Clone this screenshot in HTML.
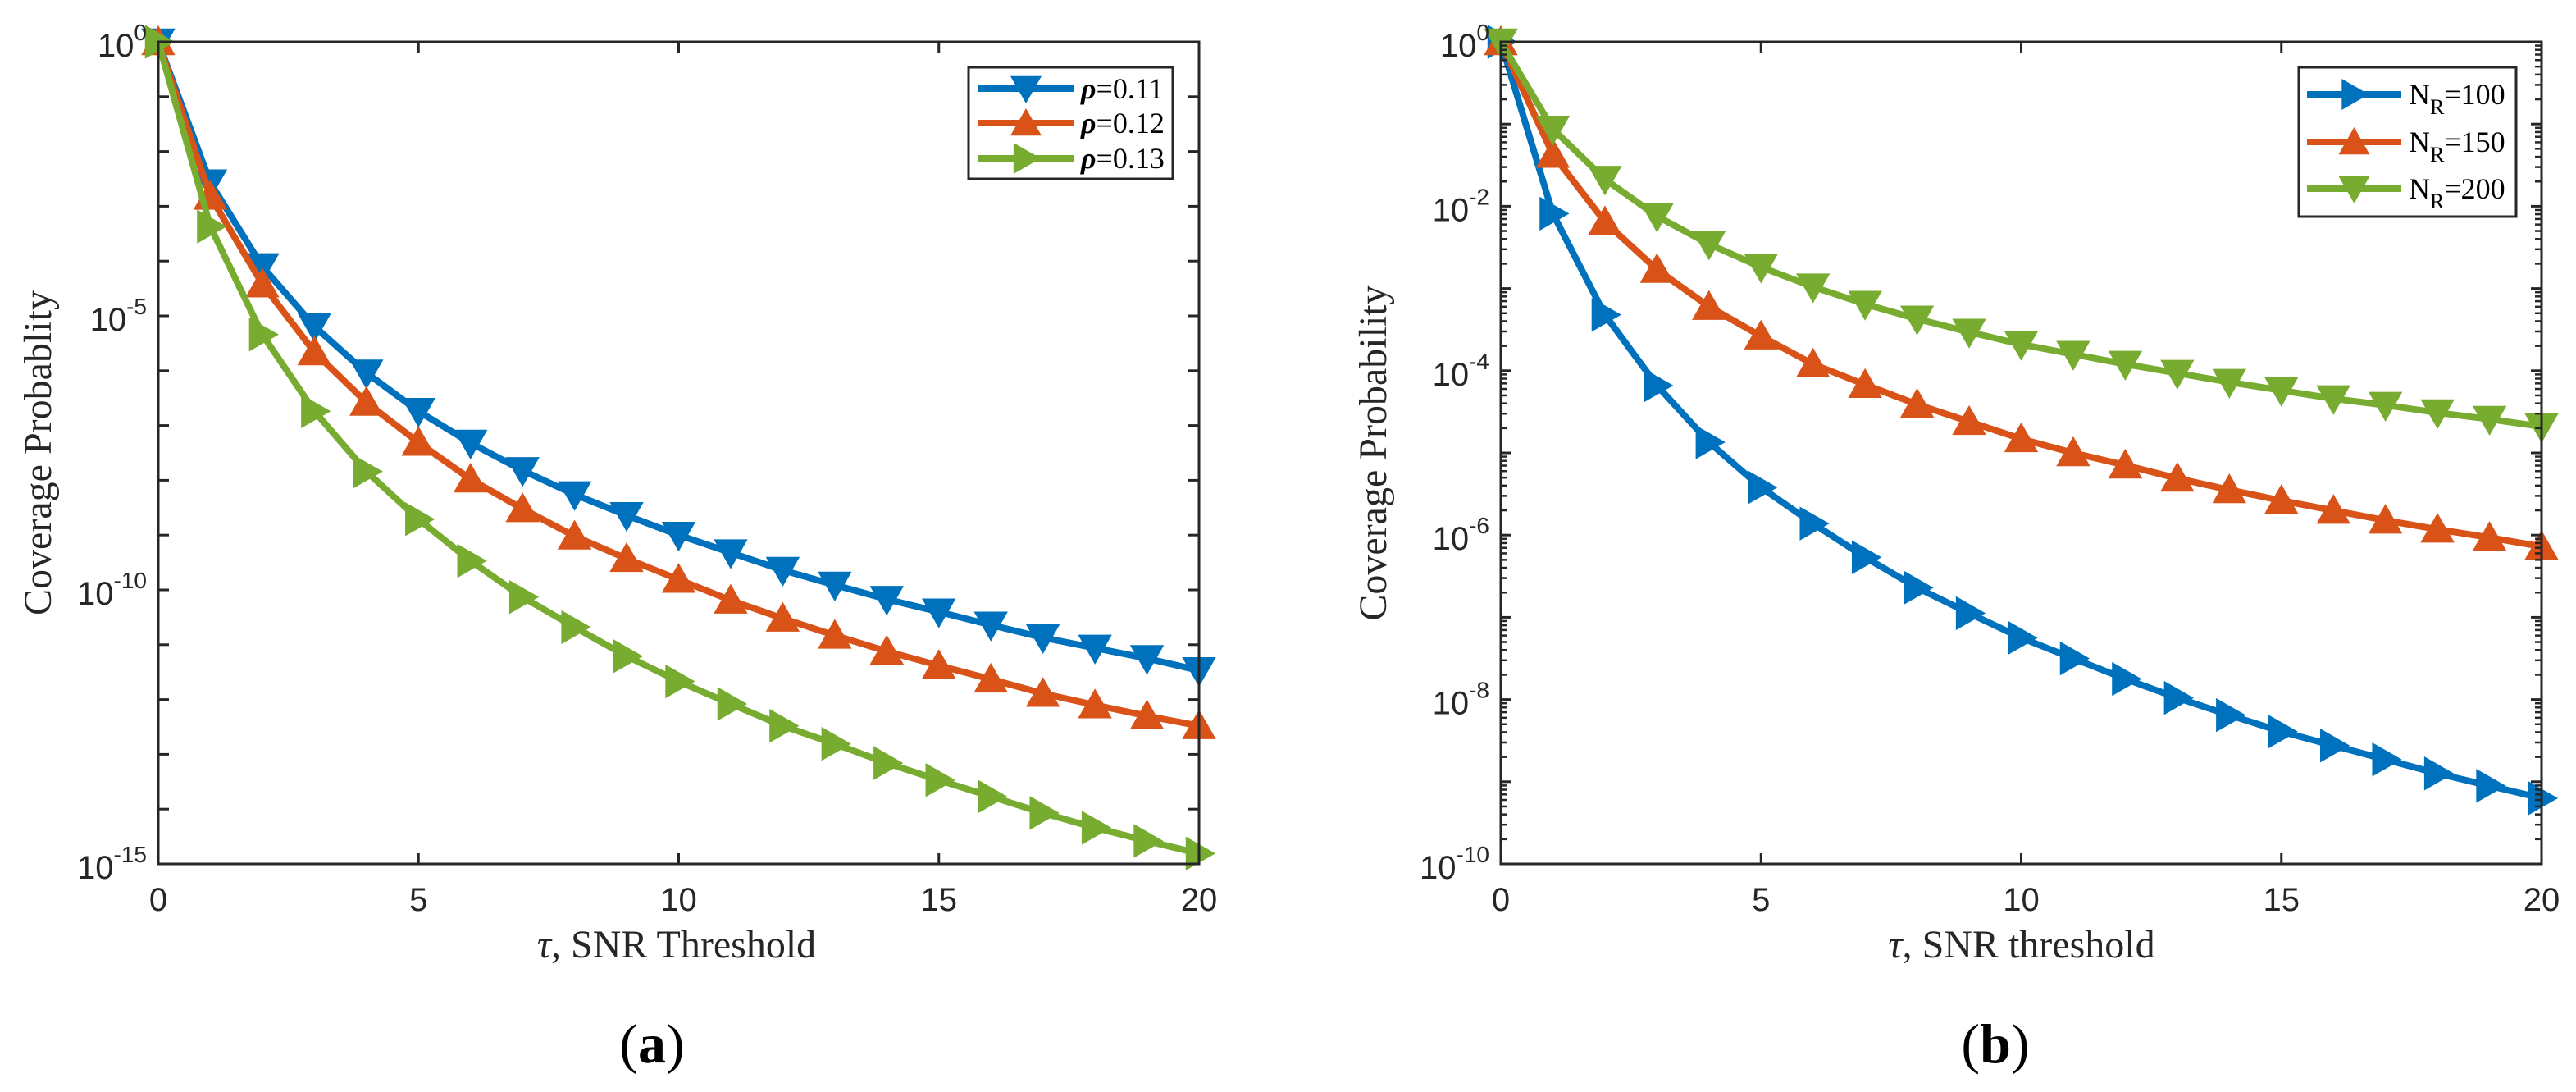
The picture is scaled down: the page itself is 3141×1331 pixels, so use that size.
<!DOCTYPE html>
<html><head><meta charset="utf-8"><style>
html,body{margin:0;padding:0;background:#fff}
svg{display:block}
</style></head><body>
<svg id="fig" width="3141" height="1331" viewBox="0 0 3141 1331" xmlns="http://www.w3.org/2000/svg"></svg>
<script>
// ---- data (log10 of coverage probability) ----
const tauValues = [0,1,2,3,4,5,6,7,8,9,10,11,12,13,14,15,16,17,18,19,20];
const xTickLabels = ["0","5","10","15","20"];
// panel a
const rho011Log = [0,-2.57,-4.10,-5.19,-6.04,-6.74,-7.32,-7.82,-8.26,-8.64,-9.00,-9.32,-9.64,-9.91,-10.17,-10.40,-10.64,-10.87,-11.06,-11.25,-11.47];
const rho012Log = [0,-2.82,-4.42,-5.66,-6.58,-7.31,-7.98,-8.52,-9.02,-9.43,-9.81,-10.19,-10.52,-10.83,-11.12,-11.38,-11.63,-11.89,-12.10,-12.30,-12.48];
const rho013Log = [0,-3.37,-5.34,-6.74,-7.84,-8.71,-9.47,-10.13,-10.68,-11.21,-11.67,-12.08,-12.48,-12.81,-13.16,-13.47,-13.77,-14.07,-14.34,-14.58,-14.81];
const yTickExpA = ["0","-5","-10","-15"];
// panel b
const nr100Log = [0,-2.09,-3.32,-4.18,-4.87,-5.42,-5.86,-6.27,-6.64,-6.95,-7.25,-7.50,-7.75,-7.98,-8.19,-8.39,-8.56,-8.73,-8.90,-9.05,-9.20];
const nr150Log = [0,-1.37,-2.19,-2.77,-3.22,-3.58,-3.92,-4.17,-4.41,-4.62,-4.83,-5.00,-5.15,-5.31,-5.45,-5.58,-5.70,-5.82,-5.93,-6.03,-6.14];
const nr200Log = [0,-1.06,-1.67,-2.12,-2.46,-2.74,-2.98,-3.19,-3.37,-3.53,-3.68,-3.80,-3.92,-4.03,-4.14,-4.24,-4.34,-4.42,-4.51,-4.59,-4.68];
const yTickExpB = ["0","-2","-4","-6","-8","-10"];

const NS="http://www.w3.org/2000/svg";
const svg=document.getElementById('fig');
function mk(tag,attrs,parent){const e=document.createElementNS(NS,tag);for(const k in attrs)e.setAttribute(k,attrs[k]);(parent||svg).appendChild(e);return e;}
const AX="#262626", SANS='"Liberation Sans", Arial, sans-serif', SERIF='"Liberation Serif", "Times New Roman", serif';
const COLORS=["#0072BD","#D95319","#77AC30"];

function tri(cx,cy,dir,s){
  const r=s;
  if(dir==='down') return `${cx-r},${cy-r*0.8} ${cx+r},${cy-r*0.8} ${cx},${cy+r*0.95}`;
  if(dir==='up') return `${cx-r},${cy+r*0.8} ${cx+r},${cy+r*0.8} ${cx},${cy-r*0.95}`;
  return `${cx-r*0.8},${cy-r} ${cx-r*0.8},${cy+r} ${cx+r*0.95},${cy}`;
}

function panel(o){
  const g=mk('g',{});
  
  
  const {L,R,T,B,ymin}=o;
  const xs=v=>L+(v-0)/(20-0)*(R-L);
  const ys=v=>T+(0-v)/(0-ymin)*(B-T);
  o.series.forEach((s,i)=>{
    const sg=mk('g',{},g);
    
    
    const pts=tauValues.map((t,j)=>xs(t)+','+ys(s.data[j])).join(' ');
    const pl=mk('polyline',{points:pts,fill:'none',stroke:s.color,'stroke-width':8,'stroke-linejoin':'round'},sg);
    
    
    tauValues.forEach((t,j)=>{
      const m=mk('polygon',{points:tri(xs(t),ys(s.data[j]),s.marker,19),fill:s.color,stroke:s.color,'stroke-width':2},sg);
      
      
    });
  });
  const box=mk('rect',{x:L,y:T,width:R-L,height:B-T,fill:'none',stroke:AX,'stroke-width':3},g);
  
  
  const tk=13;
  xTickLabels.forEach(lab=>{
    const x=xs(parseFloat(lab));
    mk('line',{x1:x,y1:B,x2:x,y2:B-tk,stroke:AX,'stroke-width':3},g);
    mk('line',{x1:x,y1:T,x2:x,y2:T+tk,stroke:AX,'stroke-width':3},g);
    const t=mk('text',{x:x,y:B+57,'font-family':SANS,'font-size':40,fill:AX,'text-anchor':'middle'},g);
    t.textContent=lab;
    
    
  });
  for(let d=0;d>=ymin;d--){
    const y=ys(d);
    mk('line',{x1:L,y1:y,x2:L+tk,y2:y,stroke:AX,'stroke-width':3},g);
    mk('line',{x1:R,y1:y,x2:R-tk,y2:y,stroke:AX,'stroke-width':3},g);
    if(o.minor && d>ymin){
      for(let k=2;k<=9;k++){
        const yy=ys(d-1+Math.log10(k));
        mk('line',{x1:L,y1:yy,x2:L+8,y2:yy,stroke:AX,'stroke-width':2.5},g);
        mk('line',{x1:R,y1:yy,x2:R-8,y2:yy,stroke:AX,'stroke-width':2.5},g);
      }
    }
  }
  o.yLabels.forEach(e=>{
    const y=ys(parseFloat(e));
    const t=mk('text',{x:L-14,y:y+18,'font-family':SANS,'font-size':40,fill:AX,'text-anchor':'end'},g);
    
    
    const a=mk('tspan',{},t);a.textContent='10';
    const b=mk('tspan',{'font-size':28,dy:-20},t);b.textContent=e;
  });
  const xl=mk('text',{x:o.xlx,y:1167,'font-family':SERIF,'font-size':48,fill:AX,'text-anchor':'middle'},g);
  
  
  const ta=mk('tspan',{'font-style':'italic'},xl);ta.textContent='τ';
  const tb=mk('tspan',{},xl);tb.textContent=', SNR '+o.xlabelWord;
  const yl=mk('text',{x:0,y:0,'font-family':SERIF,'font-size':48,fill:AX,'text-anchor':'middle',transform:`translate(${o.ylx},552) rotate(-90)`},g);
  yl.textContent=o.ylabel;
  
  
  const cap=mk('text',{x:o.capx,y:1295,'font-family':SERIF,'font-size':68,fill:'#000','text-anchor':'middle'},g);
  
  
  const c1=mk('tspan',{},cap);c1.textContent='(';
  const c2=mk('tspan',{'font-weight':'bold'},cap);c2.textContent=o.cap;
  const c3=mk('tspan',{},cap);c3.textContent=')';
  const lg=mk('g',{},g);
  
  
  const Lg=o.legend;
  mk('rect',{x:Lg.x,y:Lg.y,width:Lg.w,height:Lg.h,fill:'#fff',stroke:AX,'stroke-width':3},lg);
  o.series.forEach((s,i)=>{
    const e=mk('g',{},lg);
    
    
    const y=Lg.rows[i];
    mk('line',{x1:Lg.lx1,y1:y,x2:Lg.lx2,y2:y,stroke:s.color,'stroke-width':8},e);
    mk('polygon',{points:tri((Lg.lx1+Lg.lx2)/2,y,s.marker,19),fill:s.color},e);
    const t=mk('text',{x:Lg.tx,y:y+12,'font-family':SERIF,'font-size':36,fill:'#000'},e);
    s.label(t);
  });
}

panel({name:'panel-a',L:193,R:1462,T:51,B:1053,ymin:-15,minor:false,yLabels:yTickExpA,
  xlx:825,xlabelWord:'Threshold',ylx:62,ylabel:'Coverage Probablity',capx:795,cap:'a',
  legend:{x:1181,y:82,w:249,h:136,rows:[108,150,193],lx1:1192,lx2:1310,tx:1318},
  series:[
    {name:'series-rho-0.11',data:rho011Log,color:COLORS[0],marker:'down',label:t=>{const a=mk('tspan',{'font-style':'italic','font-weight':'bold'},t);a.textContent='ρ';const b=mk('tspan',{},t);b.textContent='=0.11';}},
    {name:'series-rho-0.12',data:rho012Log,color:COLORS[1],marker:'up',label:t=>{const a=mk('tspan',{'font-style':'italic','font-weight':'bold'},t);a.textContent='ρ';const b=mk('tspan',{},t);b.textContent='=0.12';}},
    {name:'series-rho-0.13',data:rho013Log,color:COLORS[2],marker:'right',label:t=>{const a=mk('tspan',{'font-style':'italic','font-weight':'bold'},t);a.textContent='ρ';const b=mk('tspan',{},t);b.textContent='=0.13';}}
  ]});

function nrLabel(v){return t=>{const a=mk('tspan',{},t);a.textContent='N';const b=mk('tspan',{'font-size':26,dy:12},t);b.textContent='R';const c=mk('tspan',{dy:-12},t);c.textContent='='+v;};}
panel({name:'panel-b',L:1830,R:3099,T:51,B:1053,ymin:-10,minor:true,yLabels:yTickExpB,
  xlx:2465,xlabelWord:'threshold',ylx:1690,ylabel:'Coverage Probability',capx:2433,cap:'b',
  legend:{x:2803,y:82,w:265,h:182,rows:[115,173,230],lx1:2813,lx2:2928,tx:2937},
  series:[
    {name:'series-nr-100',data:nr100Log,color:COLORS[0],marker:'right',label:nrLabel('100')},
    {name:'series-nr-150',data:nr150Log,color:COLORS[1],marker:'up',label:nrLabel('150')},
    {name:'series-nr-200',data:nr200Log,color:COLORS[2],marker:'down',label:nrLabel('200')}
  ]});
</script>
</body></html>
